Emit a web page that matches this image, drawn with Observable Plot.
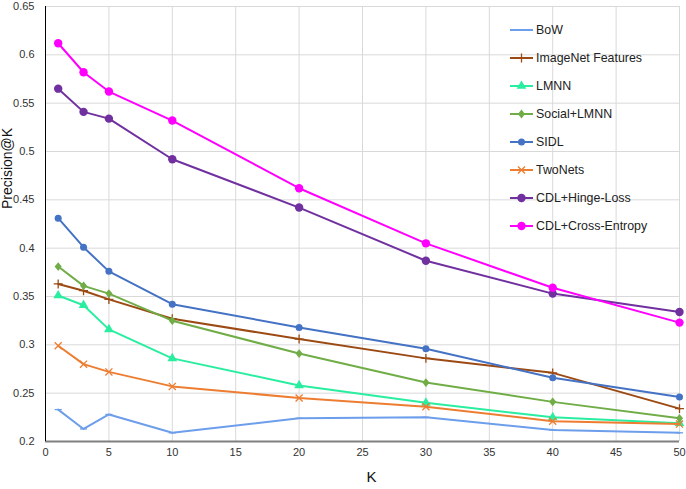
<!DOCTYPE html>
<html><head><meta charset="utf-8">
<script src="https://cdn.jsdelivr.net/npm/d3@7"></script>
<script src="https://cdn.jsdelivr.net/npm/@observablehq/plot@0.6"></script>
<style>
body{margin:0;background:#fff;font-family:"Liberation Sans",Arial,sans-serif;}
#wrap{position:relative;width:686px;height:489px;}
#legend{position:absolute;left:508px;top:16.5px;}
.row{height:27.9px;display:flex;align-items:center;font-size:12.4px;color:#222;white-space:nowrap;}
.row svg{display:block;}
</style></head><body><div id="wrap"><div id="legend"></div></div>
<script>
const K = [1, 3, 5, 10, 20, 30, 40, 50];
const seriesNames = ["BoW", "ImageNet Features", "LMNN", "Social+LMNN", "SIDL", "TwoNets", "CDL+Hinge-Loss", "CDL+Cross-Entropy"];
const bow        = [0.233, 0.213, 0.228, 0.209, 0.224, 0.225, 0.212, 0.209];
const imagenet   = [0.363, 0.356, 0.347, 0.327, 0.306, 0.286, 0.271, 0.234];
const lmnn       = [0.351, 0.341, 0.316, 0.286, 0.258, 0.240, 0.225, 0.219];
const socialLmnn = [0.381, 0.361, 0.353, 0.325, 0.291, 0.261, 0.241, 0.224];
const sidl       = [0.431, 0.401, 0.376, 0.342, 0.318, 0.296, 0.266, 0.246];
const twoNets    = [0.299, 0.280, 0.272, 0.257, 0.245, 0.236, 0.221, 0.218];
const cdlHinge   = [0.565, 0.541, 0.534, 0.492, 0.442, 0.387, 0.353, 0.334];
const cdlCE      = [0.612, 0.582, 0.562, 0.532, 0.462, 0.405, 0.359, 0.323];
const seriesValues = [bow, imagenet, lmnn, socialLmnn, sidl, twoNets, cdlHinge, cdlCE];
const colors = ["#6d9eeb", "#9c4a14", "#29eea0", "#70ad47", "#4472c4", "#ed7d31", "#7030a0", "#ff00ff"];
const xTicks = [0, 5, 10, 15, 20, 25, 30, 35, 40, 45, 50];
const yTicks = [0.2, 0.25, 0.3, 0.35, 0.4, 0.45, 0.5, 0.55, 0.6, 0.65];

const dashSymbol = {draw(ctx, size) { const w = Math.sqrt(size) / 2; ctx.moveTo(-w, 0); ctx.lineTo(w, 0); }};
const diamondSymbol = {draw(ctx, size) {
  const w = Math.sqrt(size) * 0.5, h = Math.sqrt(size) * 0.62;
  ctx.moveTo(0, -h); ctx.lineTo(w, 0); ctx.lineTo(0, h); ctx.lineTo(-w, 0); ctx.closePath();
}};
const markerStyle = [
  {symbol: dashSymbol, r: 4, filled: false},
  {symbol: "plus", r: 3, filled: false},
  {symbol: "triangle", r: 3.6, filled: true},
  {symbol: diamondSymbol, r: 4, filled: true},
  {symbol: "circle", r: 3.5, filled: true},
  {symbol: "times", r: 3.3, filled: false},
  {symbol: "circle", r: 4.2, filled: true},
  {symbol: "circle", r: 4.2, filled: true}
];

const marks = [
  Plot.gridX(xTicks, {stroke: "#d9d9d9", strokeOpacity: 1}),
  Plot.gridY(yTicks, {stroke: "#d9d9d9", strokeOpacity: 1}),
  Plot.axisX(xTicks, {tickSize: 0, tickPadding: 7, fontSize: 11, label: null, fill: "#333"}),
  Plot.axisY(yTicks, {tickSize: 0, tickPadding: 11, fontSize: 11, label: null, tickFormat: d => String(d), fill: "#333"}),
  Plot.ruleY([0.2], {stroke: "#7f7f7f", strokeWidth: 2}),
  Plot.ruleX([0], {stroke: "#000", strokeWidth: 1}),
  Plot.text(["Precision@K"], {frameAnchor: "left", rotate: -90, dx: -38, dy: -15, fontSize: 14, fill: "#111"}),
  Plot.text(["K"], {frameAnchor: "bottom", dx: 9, dy: 40, fontSize: 15, fill: "#111"})
];
seriesNames.forEach((name, i) => {
  const data = K.map((k, j) => ({k, v: seriesValues[i][j]}));
  const m = markerStyle[i];
  marks.push(Plot.line(data, {x: "k", y: "v", stroke: colors[i], strokeWidth: 2}));
  marks.push(Plot.dot(data, m.filled
    ? {x: "k", y: "v", symbol: m.symbol, r: m.r, fill: colors[i], stroke: "none"}
    : {x: "k", y: "v", symbol: m.symbol, r: m.r, fill: "none", stroke: colors[i], strokeWidth: 1.3}));
});

const chart = Plot.plot({
  width: 686, height: 489,
  marginLeft: 45, marginRight: 7, marginTop: 6, marginBottom: 48,
  style: {fontFamily: "'Liberation Sans', Arial, sans-serif", background: "#fff"},
  x: {domain: [0, 50]},
  y: {domain: [0.2, 0.65]},
  marks
});
document.getElementById("wrap").prepend(chart);

// legend
const legend = d3.select("#legend");
seriesNames.forEach((name, i) => {
  const row = legend.append("div").attr("class", "row");
  const svg = row.append("svg").attr("width", 28).attr("height", 14);
  svg.append("line").attr("x1", 2).attr("x2", 25).attr("y1", 7).attr("y2", 7)
    .attr("stroke", colors[i]).attr("stroke-width", 2);
  const m = markerStyle[i];
  const symType = typeof m.symbol === "string"
    ? {circle: d3.symbolCircle, plus: d3.symbolPlus, triangle: d3.symbolTriangle, times: d3.symbolTimes}[m.symbol]
    : m.symbol;
  const p = svg.append("path").attr("transform", "translate(13.5,7)")
    .attr("d", d3.symbol(symType, Math.PI * m.r * m.r)());
  if (m.filled) p.attr("fill", colors[i]);
  else p.attr("fill", "none").attr("stroke", colors[i]).attr("stroke-width", 1.3);
  row.append("span").text(name);
});
</script>
</body></html>
